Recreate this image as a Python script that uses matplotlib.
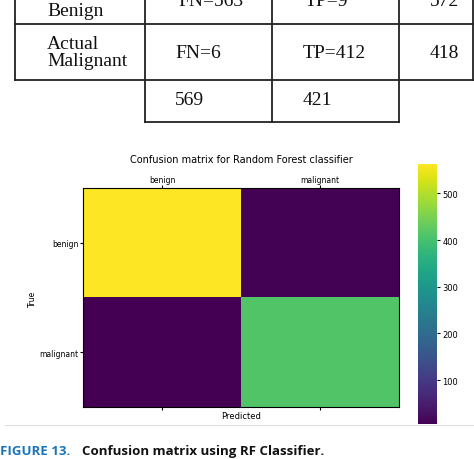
import matplotlib
matplotlib.use("Agg")
import matplotlib.pyplot as plt
import numpy as np
from matplotlib.lines import Line2D

classes = ["benign", "malignant"]
cm_values = [[563, 9], [6, 412]]
row_labels = ["Benign", "Actual\nMalignant"]
col_totals = [569, 421]
row_totals = [572, 418]

W, H = 474, 460
fig = plt.figure(figsize=(W/100, H/100), dpi=100)

def fx(px): return px / W
def fy(py): return 1 - py / H

# ---- table (partially cropped) ----
def hline(x0, x1, y):
    fig.add_artist(Line2D([fx(x0), fx(x1)], [fy(y), fy(y)], color="#222", lw=1.3))
def vline(x, y0, y1):
    fig.add_artist(Line2D([fx(x), fx(x)], [fy(y0), fy(y1)], color="#222", lw=1.3))

hline(15, 473, 25)
hline(15, 473, 81)
hline(145, 399, 123)
vline(15, 0, 81)
vline(145, 0, 123)
vline(272, 0, 123)
vline(399, 0, 123)
vline(473, 0, 81)

serif = dict(family="Liberation Serif", fontsize=14, color="#111")
fig.text(fx(47), fy(11), row_labels[0], va="center", ha="left", **serif)
fig.text(fx(47), fy(53), row_labels[1], va="center", ha="left", linespacing=1.0, **serif)
cells = [["FN=%d" % cm_values[0][0], "TP=%d" % cm_values[0][1]],
         ["FN=%d" % cm_values[1][0], "TP=%d" % cm_values[1][1]]]
fig.text(fx(178), fy(1), cells[0][0], va="center", ha="left", **serif)
fig.text(fx(305), fy(1), cells[0][1], va="center", ha="left", **serif)
fig.text(fx(459), fy(1), str(row_totals[0]), va="center", ha="right", **serif)
fig.text(fx(175), fy(53), cells[1][0], va="center", ha="left", **serif)
fig.text(fx(303), fy(53), cells[1][1], va="center", ha="left", **serif)
fig.text(fx(459), fy(53), str(row_totals[1]), va="center", ha="right", **serif)
fig.text(fx(175), fy(101), str(col_totals[0]), va="center", ha="left", **serif)
fig.text(fx(303), fy(101), str(col_totals[1]), va="center", ha="left", **serif)

# ---- heatmap ----
ax = fig.add_axes([fx(83), fy(408), fx(399) - fx(83), fy(189) - fy(408)])
im = ax.imshow(np.array(cm_values), cmap="viridis", aspect="auto")
ax.set_xticks(range(2))
ax.set_yticks(range(2))
ax.set_xticklabels(classes, fontsize=5.5)
ax.set_yticklabels(classes, fontsize=5.5)
ax.xaxis.tick_top()
ax.tick_params(axis="x", bottom=True, length=2, pad=1)
ax.tick_params(axis="y", length=2, pad=1)
ax.set_xlabel("Predicted", fontsize=6, labelpad=1)
ax.set_ylabel("True", fontsize=5.5, labelpad=2)
ax.set_title("Confusion matrix for Random Forest classifier", fontsize=7, pad=9)

cax = fig.add_axes([fx(418), fy(425), fx(437) - fx(418), fy(165) - fy(425)])
cb = fig.colorbar(im, cax=cax)
cb.set_ticks([100, 200, 300, 400, 500])
cb.ax.tick_params(labelsize=6, length=2, pad=2)
cb.outline.set_visible(False)

fig.add_artist(Line2D([fx(5), fx(474)], [fy(426), fy(426)], color="#ddd", lw=0.8))

# ---- caption ----
fig.text(fx(0), fy(452), "FIGURE 13.", color="#1a75bb", fontsize=9.5, fontweight="bold",
         family="Open Sans", va="center", ha="left")
fig.text(fx(82), fy(452), "Confusion matrix using RF Classifier.", color="#111", fontsize=9.5,
         fontweight="bold", family="Open Sans", va="center", ha="left")

fig.savefig("out.png", dpi=100)
